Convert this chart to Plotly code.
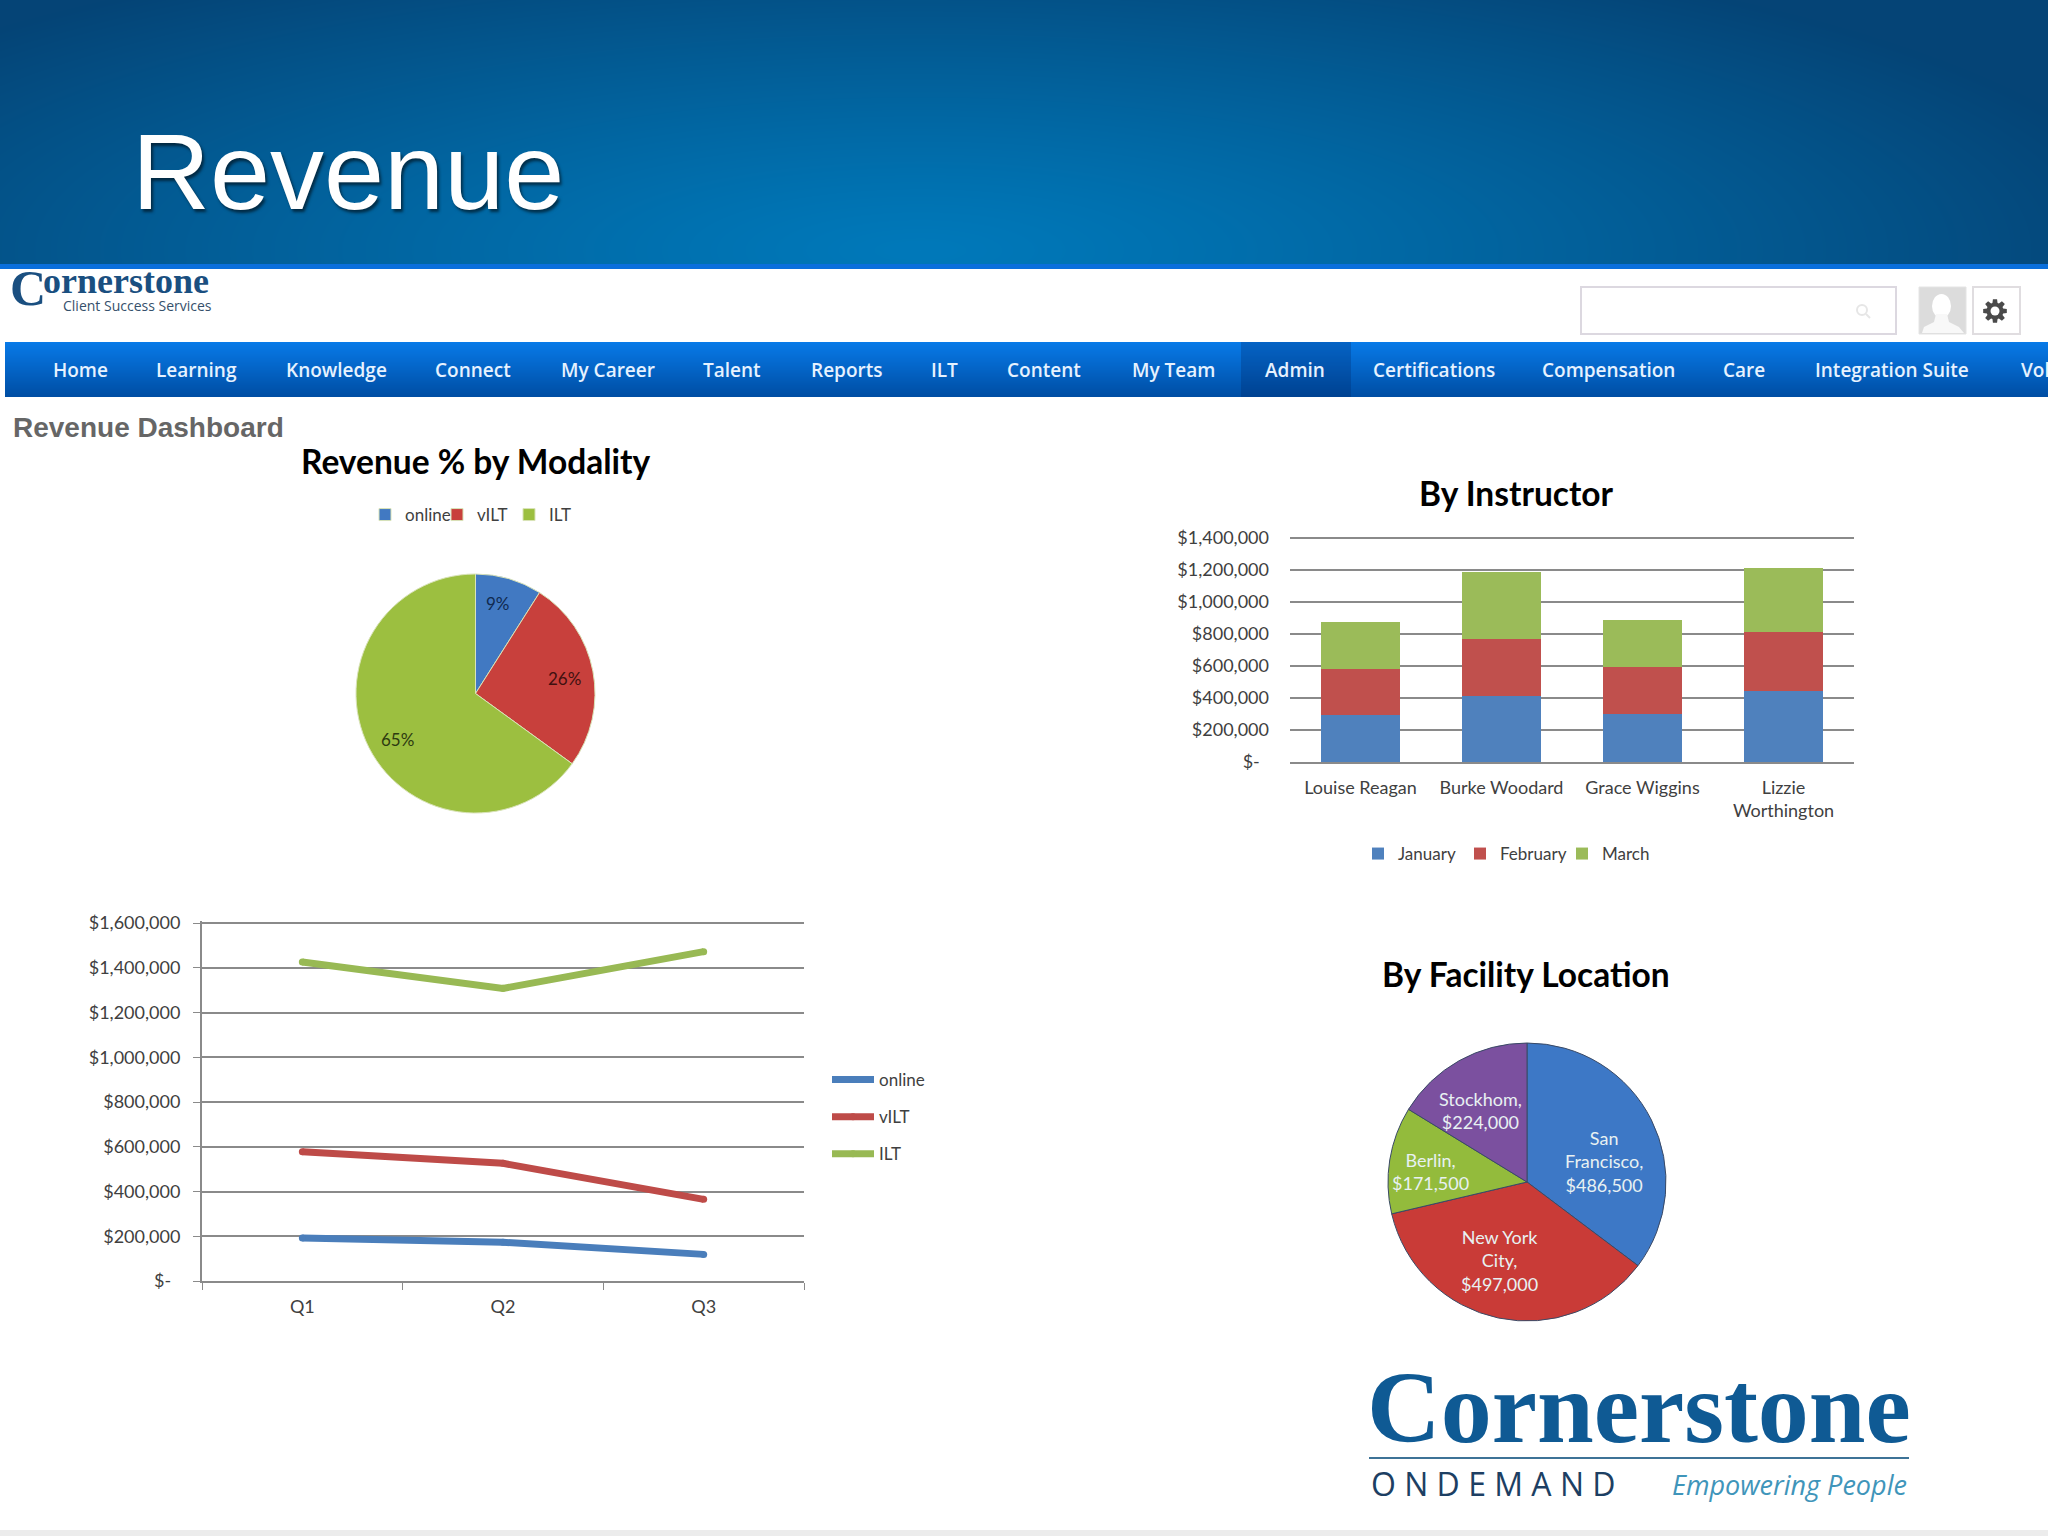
import base64, math, struct, zlib
import numpy as np
import plotly.graph_objects as go

W, H = 2048, 1536

# ---------- data ----------
modality_labels = ["online", "vILT", "ILT"]
modality_share = [9, 26, 65]

quarters = ["Q1", "Q2", "Q3"]
online_q = [192000, 173000, 119000]
vilt_q = [578000, 526000, 365000]
ilt_q = [1426000, 1308000, 1472000]
line_ticks = [0, 200000, 400000, 600000, 800000, 1000000, 1200000, 1400000, 1600000]
line_tick_text = ["$-\u00a0\u00a0", "$200,000", "$400,000", "$600,000", "$800,000",
                  "$1,000,000", "$1,200,000", "$1,400,000", "$1,600,000"]

instructors = ["Louise Reagan", "Burke Woodard", "Grace Wiggins", "Lizzie<br>Worthington"]
january = [292000, 413000, 302000, 444000]
february = [289000, 357000, 289000, 370000]
march = [297000, 416000, 298000, 397000]
bar_ticks = [0, 200000, 400000, 600000, 800000, 1000000, 1200000, 1400000]
bar_tick_text = ["$-\u00a0\u00a0", "$200,000", "$400,000", "$600,000", "$800,000",
                 "$1,000,000", "$1,200,000", "$1,400,000"]

facility_labels = ["San<br>Francisco,", "New York<br>City,", "Berlin,", "Stockhom,"]
facility_values = [486500, 497000, 171500, 224000]
facility_text = ["$486,500", "$497,000", "$171,500", "$224,000"]

nav_items = ["Home", "Learning", "Knowledge", "Connect", "My Career", "Talent", "Reports", "ILT",
             "Content", "My Team", "Admin", "Certifications", "Compensation", "Care",
             "Integration Suite"]
nav_centers = [80, 196, 336, 473, 608, 732, 846, 944, 1044, 1173, 1295, 1434, 1608, 1744, 1892]


# ---------- helpers ----------
def fx(x):
    return x / W


def fy(y):
    return 1 - y / H


def png_uri(rgb):
    h, w, _ = rgb.shape
    raw = b"".join(b"\x00" + rgb[i].tobytes() for i in range(h))

    def chunk(tag, data):
        body = tag + data
        return struct.pack(">I", len(data)) + body + struct.pack(">I", zlib.crc32(body) & 0xffffffff)

    png = (b"\x89PNG\r\n\x1a\n"
           + chunk(b"IHDR", struct.pack(">IIBBBBB", w, h, 8, 2, 0, 0, 0))
           + chunk(b"IDAT", zlib.compress(raw, 9))
           + chunk(b"IEND", b""))
    return "data:image/png;base64," + base64.b64encode(png).decode()


def banner_image():
    ys, xs = np.mgrid[0:264, 0:2048]
    d = np.sqrt(((xs - 920) / 1250.0) ** 2 + ((ys - 250) / 330.0) ** 2)
    d = np.clip(d, 0, 1)[..., None] ** 1.2
    inner = np.array([0, 121, 186])
    outer = np.array([5, 68, 118])
    return (inner * (1 - d) + outer * d).astype(np.uint8)


def nav_image():
    t = np.linspace(0, 1, 55)[:, None, None]
    top = np.array([8, 122, 232])
    bottom = np.array([0, 78, 164])
    return np.repeat((top * (1 - t) + bottom * t), 4, axis=1).astype(np.uint8)


def text(x, y, s, size, color="#000", family="Lato", xanchor="center", yanchor="middle", **kw):
    font = dict(size=size, color=color, family=family)
    font.update(kw.pop("font", {}))
    return dict(x=fx(x), y=fy(y), xref="paper", yref="paper", text=s, showarrow=False,
                xanchor=xanchor, yanchor=yanchor, font=font, **kw)


def rect(x0, y0, x1, y1, fill="rgba(0,0,0,0)", line=None, width=1, layer="below"):
    return dict(type="rect", xref="paper", yref="paper", x0=fx(x0), x1=fx(x1), y0=fy(y0), y1=fy(y1),
                fillcolor=fill, line=dict(color=line or "rgba(0,0,0,0)", width=width if line else 0),
                layer=layer)


def path_shape(points, fill):
    d = "M " + " L ".join(f"{fx(a):.5f} {fy(b):.5f}" for a, b in points) + " Z"
    return dict(type="path", xref="paper", yref="paper", path=d, fillcolor=fill, line=dict(width=0), layer="below")


def gear_points(cx, cy, outer, inner, teeth=8):
    pts = []
    step = 2 * math.pi / teeth
    for i in range(teeth):
        a = i * step
        for da, r in [(-0.30, inner), (-0.17, outer), (0.17, outer), (0.30, inner)]:
            pts.append((cx + r * math.cos(a + da * step * 1.3), cy + r * math.sin(a + da * step * 1.3)))
    return pts


# ---------- figure ----------
fig = go.Figure()

fig.add_trace(go.Pie(
    labels=modality_labels, values=modality_share, sort=False, direction="clockwise", rotation=0,
    domain=dict(x=[fx(356), fx(595)], y=[fy(813), fy(574)]),
    marker=dict(colors=["#4179c2", "#c8403c", "#9cbf40"], line=dict(color="#d9e3b8", width=1)),
    textinfo="none", legend="legend", hoverinfo="label+percent",
))

for name, vals, col in [("online", online_q, "#4a7ebb"), ("vILT", vilt_q, "#be4b48"), ("ILT", ilt_q, "#98b954")]:
    fig.add_trace(go.Scatter(x=quarters, y=vals, name=name, mode="lines+markers", xaxis="x", yaxis="y",
                             line=dict(color=col, width=7), marker=dict(color=col, size=7),
                             legend="legend2", legendgroup=name))

for name, vals, col in [("January", january, "#4f81bd"), ("February", february, "#c0504d"), ("March", march, "#9bbb59")]:
    fig.add_trace(go.Bar(x=instructors, y=vals, name=name, xaxis="x2", yaxis="y2",
                         marker=dict(color=col, line=dict(width=0)), legend="legend3"))

fig.add_trace(go.Pie(
    labels=facility_labels, values=facility_values, sort=False, direction="clockwise", rotation=0,
    domain=dict(x=[fx(1388), fx(1666)], y=[fy(1321), fy(1043)]),
    marker=dict(colors=["#3d78c6", "#c93b37", "#93bb3c", "#7b509f"], line=dict(color="#3a4a66", width=1)),
    textinfo="none", showlegend=False,
))

tick_font = dict(size=18, color="#404040", family="Lato")
grid = "#8a8a8a"

images = [
    dict(source=png_uri(banner_image()), xref="paper", yref="paper", x=0, y=1, sizex=1, sizey=264 / H,
         sizing="stretch", xanchor="left", yanchor="top", layer="below"),
    dict(source=png_uri(nav_image()), xref="paper", yref="paper", x=fx(5), y=fy(342), sizex=fx(2043),
         sizey=55 / H, sizing="stretch", xanchor="left", yanchor="top", layer="below"),
]

shapes = [
    rect(0, 264, 2048, 269, fill="#0a6fdc"),
    rect(1241, 342, 1351, 397, fill="rgba(0,30,90,0.25)"),
    rect(1581, 287, 1896, 334, fill="#fff", line="#dcd8e0", width=2),
    rect(1919, 287, 1966, 334, fill="#dcdcdc", line="#e4e4e4", width=1),
    dict(type="circle", xref="paper", yref="paper", x0=fx(1932), x1=fx(1951), y0=fy(318), y1=fy(294),
         fillcolor="#fff", line=dict(width=0), layer="below"),
    path_shape([(1922, 333), (1924, 327), (1934, 322), (1936, 314), (1947, 314), (1949, 322),
                (1959, 327), (1964, 333)], "#f8f8f8"),
    rect(1973, 287, 2020, 334, fill="#fff", line="#e0dde0", width=2),
    path_shape(gear_points(1995, 311, 12, 8.5), "#4a4a4a"),
    dict(type="circle", xref="paper", yref="paper", x0=fx(1990.5), x1=fx(1999.5), y0=fy(315.5), y1=fy(306.5),
         fillcolor="#fff", line=dict(width=0), layer="below"),
    dict(type="circle", xref="paper", yref="paper", x0=fx(1857), x1=fx(1867), y0=fy(315), y1=fy(305),
         fillcolor="rgba(0,0,0,0)", line=dict(color="#e6e6e6", width=2), layer="below"),
    dict(type="line", xref="paper", yref="paper", x0=fx(1866), x1=fx(1870), y0=fy(314), y1=fy(318),
         line=dict(color="#e6e6e6", width=2), layer="below"),
    dict(type="line", xref="paper", yref="paper", x0=fx(1369), x1=fx(1909), y0=fy(1458), y1=fy(1458),
         line=dict(color="#3d7397", width=2), layer="below"),
    rect(0, 1530, 2048, 1536, fill="#ececec"),
]

annotations = [
    text(130, 172, "Revenue", 108, "#fff", "Liberation Sans", xanchor="left",
         font=dict(shadow="2px 3px 3px rgba(0,0,0,0.55)")),
    text(8, 288, "C", 50, "#1a4f80", "Liberation Serif", xanchor="left", font=dict(weight="bold")),
    text(41, 281, "ornerstone", 36, "#1a4f80", "Liberation Serif", xanchor="left", font=dict(weight="bold")),
    text(61, 305, "Client Success Services", 14, "#35506b", "Open Sans", xanchor="left"),
    text(11, 428, "Revenue Dashboard", 28, "#666", "Liberation Sans", xanchor="left", font=dict(weight="bold")),
    text(476, 461, "Revenue % by Modality", 33.5, "#000", font=dict(weight="bold")),
    text(1516, 493, "By Instructor", 33.5, "#000", font=dict(weight="bold")),
    text(1526, 974, "By Facility Location", 33.5, "#000", font=dict(weight="bold")),
    text(498, 603, f"{modality_share[0]}%", 17, "#102a50"),
    text(564, 678, f"{modality_share[1]}%", 17, "#401010"),
    text(397, 740, f"{modality_share[2]}%", 17, "#2d3a10"),
    text(1365, 1407, "Cornerstone", 102, "#0f5a94", "Liberation Serif", xanchor="left", font=dict(weight="bold")),
    text(1369, 1483, "O N D E M A N D", 32, "#1d3f63", "Open Sans", xanchor="left"),
    text(1909, 1484, "Empowering People", 27, "#3f95ba", "Open Sans", xanchor="right", font=dict(style="italic")),
    text(2019, 370, "Vol", 19, "#e6f2ff", "Open Sans", xanchor="left", font=dict(weight=600)),
]
for label, cx in zip(nav_items, nav_centers):
    annotations.append(text(cx, 370, label, 19, "#e6f2ff", "Open Sans", font=dict(weight=600)))
for (cx, cy), name, amount in zip([(1604, 1161), (1499, 1260), (1430, 1171), (1480, 1110)],
                                  facility_labels, facility_text):
    annotations.append(text(cx, cy, f"{name}<br>{amount}", 18, "#e8f1f2"))

legend_common = dict(font=dict(size=17, color="#404040"), itemclick=False, itemdoubleclick=False,
                     bgcolor="rgba(0,0,0,0)")

fig.update_layout(
    width=W, height=H, margin=dict(l=0, r=0, t=0, b=0, autoexpand=False),
    paper_bgcolor="#fff", plot_bgcolor="rgba(0,0,0,0)", barmode="stack", bargap=0.434,
    font=dict(family="Lato", color="#404040"),
    xaxis=dict(domain=[fx(202), fx(804)], anchor="y", type="category", range=[-0.5, 2.5], tickson="boundaries",
               ticks="outside", ticklen=7, tickcolor=grid, linecolor=grid, linewidth=2, showgrid=False,
               tickfont=tick_font, showline=True, ticklabelstandoff=8),
    yaxis=dict(domain=[fy(1281), fy(920.8)], anchor="x", range=[0, 1610000], tickvals=line_ticks,
               ticktext=line_tick_text, ticks="outside", ticklen=7, tickcolor=grid, gridcolor=grid, gridwidth=1.5,
               linecolor=grid, linewidth=2, showline=True, zeroline=False, tickfont=tick_font,
               ticklabelstandoff=9),
    xaxis2=dict(domain=[fx(1290), fx(1854)], anchor="y2", type="category", showgrid=False, ticks="",
                linecolor=grid, linewidth=2, showline=True, tickfont=tick_font, ticklabelstandoff=8),
    yaxis2=dict(domain=[fy(762), fy(536.4)], anchor="x2", range=[0, 1410000], tickvals=bar_ticks,
                ticktext=bar_tick_text, ticks="", gridcolor=grid, gridwidth=1.5, zeroline=False,
                showline=False, tickfont=tick_font, ticklabelstandoff=20),
    legend=dict(orientation="h", x=fx(365), y=fy(515), xanchor="left", yanchor="middle", entrywidth=27,
                **legend_common),
    legend2=dict(orientation="v", x=fx(827), y=fy(1117), xanchor="left", yanchor="middle", itemwidth=42,
                 tracegroupgap=12, **legend_common),
    legend3=dict(orientation="h", x=fx(1358), y=fy(854), xanchor="left", yanchor="middle", entrywidth=57,
                 traceorder="normal", **legend_common),
    images=images, shapes=shapes, annotations=annotations,
)

fig.write_html("out.html", config=dict(displayModeBar=False),
               post_script="document.body.style.margin='0';document.body.style.overflow='hidden';")
